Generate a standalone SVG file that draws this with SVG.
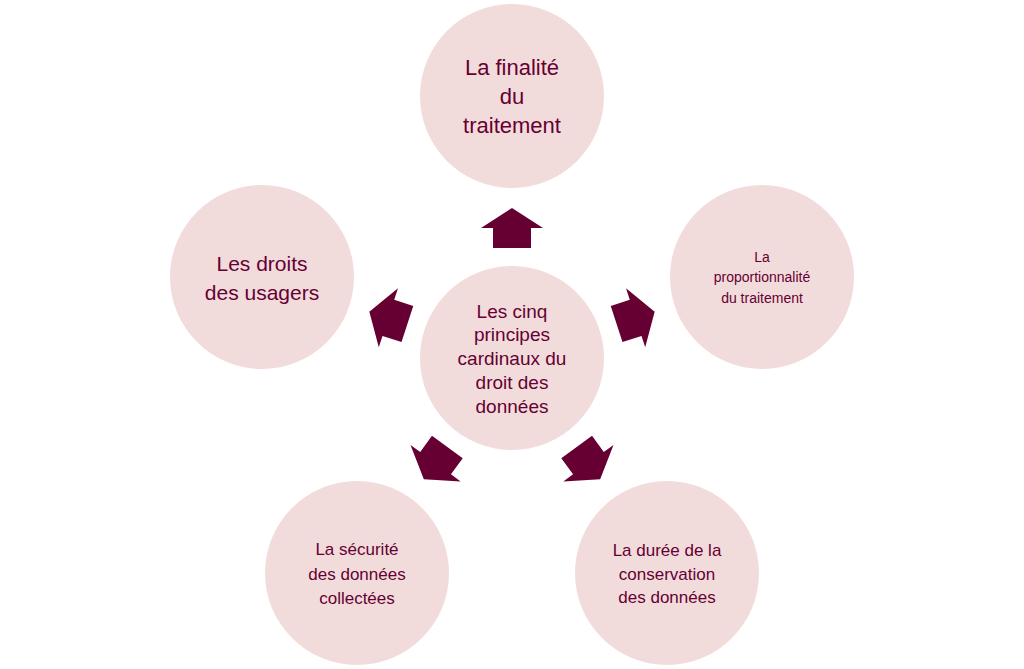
<svg xmlns="http://www.w3.org/2000/svg" width="1024" height="669" viewBox="0 0 1024 669">
<style>
.c{fill:#f2dcdb}
text{font-family:"Liberation Sans",Arial,sans-serif;fill:#660033;text-anchor:middle}
.a{fill:#660033}
</style>
<defs><polygon id="arr" points="110,-19 130,-19 130,-31 150,0 130,31 130,19 110,19"/></defs>
<rect width="1024" height="669" fill="#fff"/>
<g id="connectors">
<use href="#arr" class="a" transform="translate(512,358) rotate(-90)"/>
<use href="#arr" class="a" transform="translate(512,358) rotate(-18)"/>
<use href="#arr" class="a" transform="translate(512,358) rotate(54)"/>
<use href="#arr" class="a" transform="translate(512,358) rotate(126)"/>
<use href="#arr" class="a" transform="translate(512,358) rotate(198)"/>
</g>
<g id="center"><circle class="c" cx="512" cy="358" r="92"/>
<text font-size="19"><tspan x="512" y="318">Les cinq</tspan><tspan x="512" y="341">principes</tspan><tspan x="512" y="365">cardinaux du</tspan><tspan x="512" y="389">droit des</tspan><tspan x="512" y="413">données</tspan></text></g>
<g id="n1"><circle class="c" cx="512" cy="96" r="92"/>
<text font-size="22"><tspan x="512" y="75">La finalité</tspan><tspan x="512" y="104">du</tspan><tspan x="512" y="133">traitement</tspan></text></g>
<g id="n2"><circle class="c" cx="762" cy="277" r="92"/>
<text font-size="14"><tspan x="762" y="262">La</tspan><tspan x="762" y="282">proportionnalité</tspan><tspan x="762" y="303">du traitement</tspan></text></g>
<g id="n3"><circle class="c" cx="667" cy="573" r="92"/>
<text font-size="17"><tspan x="667" y="556">La durée de la</tspan><tspan x="667" y="580">conservation</tspan><tspan x="667" y="603">des données</tspan></text></g>
<g id="n4"><circle class="c" cx="357" cy="573" r="92"/>
<text font-size="17"><tspan x="357" y="555">La sécurité</tspan><tspan x="357" y="580">des données</tspan><tspan x="357" y="604">collectées</tspan></text></g>
<g id="n5"><circle class="c" cx="262" cy="277" r="92"/>
<text font-size="21"><tspan x="262" y="271">Les droits</tspan><tspan x="262" y="300">des usagers</tspan></text></g>
</svg>
